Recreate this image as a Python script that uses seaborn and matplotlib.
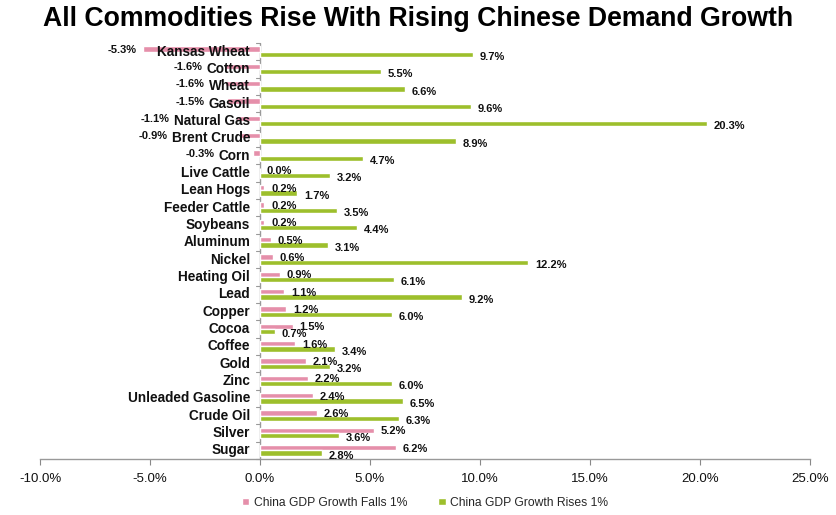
import matplotlib
matplotlib.use("Agg")
import matplotlib.pyplot as plt
import seaborn as sns
import pandas as pd
import numpy as np
from matplotlib.ticker import FuncFormatter

categories = ["Kansas Wheat", "Cotton", "Wheat", "Gasoil", "Natural Gas", "Brent Crude",
              "Corn", "Live Cattle", "Lean Hogs", "Feeder Cattle", "Soybeans", "Aluminum",
              "Nickel", "Heating Oil", "Lead", "Copper", "Cocoa", "Coffee", "Gold", "Zinc",
              "Unleaded Gasoline", "Crude Oil", "Silver", "Sugar"]
falls = [-5.3, -1.6, -1.6, -1.5, -1.1, -0.9, -0.3, 0.0, 0.2, 0.2, 0.2, 0.5,
         0.6, 0.9, 1.1, 1.2, 1.5, 1.6, 2.1, 2.2, 2.4, 2.6, 5.2, 6.2]
rises = [9.7, 5.5, 6.6, 9.6, 20.3, 8.9, 4.7, 3.2, 1.7, 3.5, 4.4, 3.1,
         12.2, 6.1, 9.2, 6.0, 0.7, 3.4, 3.2, 6.0, 6.5, 6.3, 3.6, 2.8]
series = ["China GDP Growth Falls 1%", "China GDP Growth Rises 1%"]
x_ticks = [-10, -5, 0, 5, 10, 15, 20, 25]

df = pd.DataFrame({
    "Commodity": categories * 2,
    "Value": falls + rises,
    "Scenario": [series[0]] * len(categories) + [series[1]] * len(categories),
})

sns.set_theme(style="white")
plt.rcParams["font.family"] = ["Liberation Sans", "DejaVu Sans"]

pink = "#E58FAA"
green = "#9DBF2C"

fig = plt.figure(figsize=(8.36, 5.15), dpi=100)
ax = fig.add_axes([40 / 836, 56 / 515, 770 / 836, 416 / 515])

sns.barplot(data=df, y="Commodity", x="Value", hue="Scenario", order=categories,
            hue_order=series, palette=[pink, green], orient="h", width=0.62,
            dodge=True, ax=ax, legend=True, saturation=1)

ax.set_xlim(-10, 25)
ax.set_ylim(len(categories) - 0.5, -0.5)
ax.set_xticks(x_ticks)
ax.xaxis.set_major_formatter(FuncFormatter(lambda v, p: f"{v:.1f}%"))
ax.tick_params(axis="x", labelsize=9.5, colors="#888888", length=4, width=0.8,
               direction="out", bottom=True, pad=6)
for lbl in ax.get_xticklabels():
    lbl.set_color("#111111")
ax.set_yticks([])
ax.set_xlabel("")
ax.set_ylabel("")
for s in ["top", "right", "left"]:
    ax.spines[s].set_visible(False)
ax.spines["bottom"].set_color("#999999")
ax.spines["bottom"].set_linewidth(1.0)

# zero axis line with category boundary ticks
ax.axvline(0, color="#999999", lw=1.0, zorder=0.5)
for b in np.arange(-0.5, len(categories) + 0.5, 1):
    ax.plot([-0.2, 0], [b, b], color="#999999", lw=0.8, clip_on=False)

# category labels next to zero line
cat_texts = []
for i, c in enumerate(categories):
    t = ax.text(-0.45, i, c, ha="right", va="center", fontsize=9.8, fontweight="bold",
                color="#111111")
    cat_texts.append(t)

fig.canvas.draw()
renderer = fig.canvas.get_renderer()
inv = ax.transData.inverted()

# value labels
off = 0.31 / 2
vfs = 8
for i, (f, r) in enumerate(zip(falls, rises)):
    if f < 0:
        bb = cat_texts[i].get_window_extent(renderer)
        left_data = inv.transform((bb.x0, 0))[0]
        xpos = min(f - 0.3, left_data - 0.2)
        ax.text(xpos, i - 0.12, f"{f:.1f}%", ha="right", va="center",
                fontsize=vfs, fontweight="bold", color="#111111")
    else:
        ax.text(f + 0.3, i - off + 0.05, f"{f:.1f}%", ha="left", va="center",
                fontsize=vfs, fontweight="bold", color="#111111")
    ax.text(r + 0.3, i + off + 0.15, f"{r:.1f}%", ha="left", va="center",
            fontsize=vfs, fontweight="bold", color="#111111")

leg = ax.legend(loc="center", bbox_to_anchor=(0.5, -0.105), ncol=2, frameon=False,
                fontsize=8.7, handlelength=0.6, handleheight=0.6, columnspacing=2.6,
                handletextpad=0.4, title=None)

fig.text(0.5, 0.963, "All Commodities Rise With Rising Chinese Demand Growth",
         ha="center", va="center", fontsize=19.2, fontweight="bold", color="#000000")

fig.savefig("out.png", dpi=100, facecolor="white")
